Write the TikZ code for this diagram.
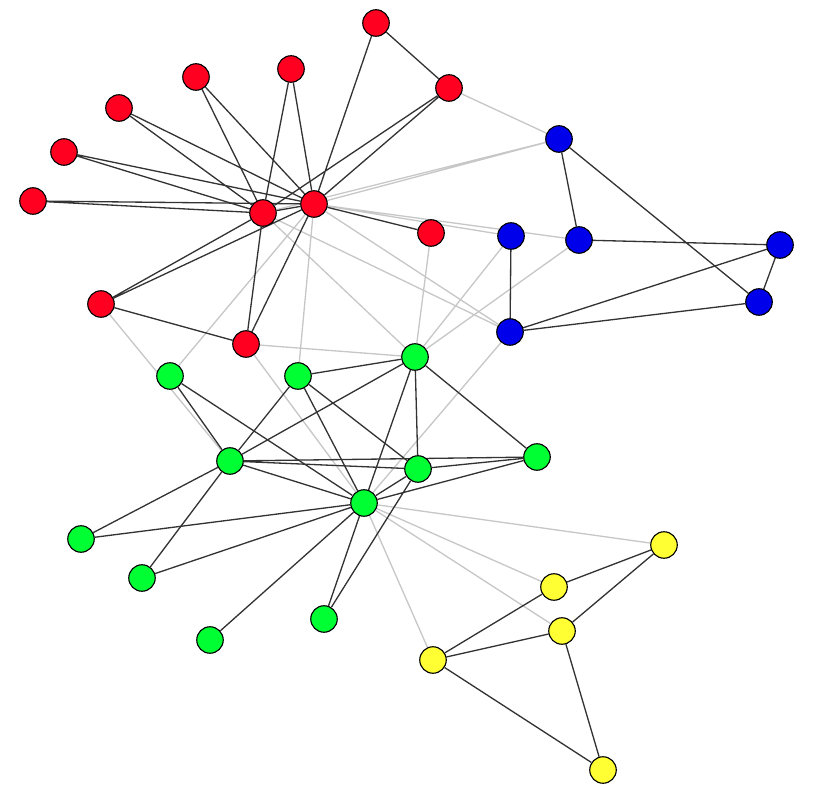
\documentclass[tikz,border=0pt]{standalone}
\usepackage{tikz}
\usetikzlibrary{backgrounds}

\definecolor{vred}{RGB}{255,0,32}
\definecolor{vblue}{RGB}{0,0,235}
\definecolor{vgreen}{RGB}{0,255,51}
\definecolor{vyellow}{RGB}{255,255,51}

\begin{document}
\begin{tikzpicture}[
    x=0.02cm, y=-0.02cm,
    vertex/.style={circle, draw=black, line width=0.65pt, minimum size=0.53cm, inner sep=0pt},
    strong/.style={draw=black!80, line width=0.75pt},
    weak/.style={draw=black!22, line width=0.75pt}
]
\useasboundingbox (0,0) rectangle (825,790);
% red group
\node[vertex, fill=vred] (r1) at (376,23) {};
\node[vertex, fill=vred] (r2) at (449,88) {};
\node[vertex, fill=vred] (r3) at (196,77) {};
\node[vertex, fill=vred] (r4) at (291,69) {};
\node[vertex, fill=vred] (r5) at (119,108) {};
\node[vertex, fill=vred] (r6) at (64,152) {};
\node[vertex, fill=vred] (r7) at (33,201) {};
\node[vertex, fill=vred] (r8) at (263,213) {};
\node[vertex, fill=vred] (r9) at (314,204) {};
\node[vertex, fill=vred] (r10) at (431,233) {};
\node[vertex, fill=vred] (r11) at (101,304) {};
\node[vertex, fill=vred] (r12) at (246,344) {};
% blue group
\node[vertex, fill=vblue] (b1) at (559,139) {};
\node[vertex, fill=vblue] (b2) at (579,240) {};
\node[vertex, fill=vblue] (b3) at (511,236) {};
\node[vertex, fill=vblue] (b4) at (780,245) {};
\node[vertex, fill=vblue] (b5) at (759,302) {};
\node[vertex, fill=vblue] (b6) at (510,332) {};
% green group
\node[vertex, fill=vgreen] (g1) at (415,357) {};
\node[vertex, fill=vgreen] (g2) at (298,376) {};
\node[vertex, fill=vgreen] (g3) at (170,376) {};
\node[vertex, fill=vgreen] (g4) at (230,461) {};
\node[vertex, fill=vgreen] (g5) at (418,469) {};
\node[vertex, fill=vgreen] (g6) at (537,457) {};
\node[vertex, fill=vgreen] (g7) at (364,503) {};
\node[vertex, fill=vgreen] (g8) at (81,539) {};
\node[vertex, fill=vgreen] (g9) at (142,578) {};
\node[vertex, fill=vgreen] (g10) at (210,640) {};
\node[vertex, fill=vgreen] (g11) at (324,619) {};
% yellow group
\node[vertex, fill=vyellow] (y1) at (664,545) {};
\node[vertex, fill=vyellow] (y2) at (554,587) {};
\node[vertex, fill=vyellow] (y3) at (562,631) {};
\node[vertex, fill=vyellow] (y4) at (433,660) {};
\node[vertex, fill=vyellow] (y5) at (603,770) {};

\begin{scope}[on background layer]
% links between groups
\draw[weak] (r2) -- (b1) (r8) -- (b1) (r9) -- (b1) (r9) -- (b3) (r9) -- (b2);
\draw[weak] (r8) -- (b6) (r9) -- (b6) (r8) -- (g1) (r9) -- (g2) (r9) -- (g3);
\draw[weak] (r10) -- (g1) (r11) -- (g4) (r12) -- (g1) (r12) -- (g7);
\draw[weak] (g1) -- (b3) (g1) -- (b2) (b6) -- (g7);
\draw[weak] (g7) -- (y1) (g7) -- (y2) (g7) -- (y3) (g7) -- (y4);
% links inside groups
\draw[strong] (r1) -- (r2) (r1) -- (r9) (r2) -- (r8) (r2) -- (r9);
\draw[strong] (r3) -- (r8) (r3) -- (r9) (r4) -- (r8) (r4) -- (r9);
\draw[strong] (r5) -- (r8) (r5) -- (r9) (r6) -- (r8) (r6) -- (r9);
\draw[strong] (r7) -- (r8) (r7) -- (r9) (r8) -- (r9) (r9) -- (r10);
\draw[strong] (r11) -- (r8) (r11) -- (r9) (r12) -- (r8) (r12) -- (r9) (r11) -- (r12);
\draw[strong] (b1) -- (b2) (b1) -- (b5) (b2) -- (b4) (b4) -- (b5);
\draw[strong] (b4) -- (b6) (b5) -- (b6) (b3) -- (b6);
\draw[strong] (g1) -- (g2) (g1) -- (g4) (g1) -- (g7) (g1) -- (g5) (g1) -- (g6);
\draw[strong] (g2) -- (g4) (g2) -- (g7) (g2) -- (g5) (g3) -- (g4) (g3) -- (g7);
\draw[strong] (g4) -- (g5) (g4) -- (g6) (g4) -- (g7) (g4) -- (g8) (g4) -- (g9);
\draw[strong] (g5) -- (g6) (g5) -- (g7) (g6) -- (g7) (g5) -- (g11);
\draw[strong] (g7) -- (g11) (g7) -- (g10) (g7) -- (g9) (g7) -- (g8);
\draw[strong] (y1) -- (y2) (y1) -- (y3) (y2) -- (y4) (y3) -- (y4) (y4) -- (y5) (y3) -- (y5);
\end{scope}
\end{tikzpicture}
\end{document}
